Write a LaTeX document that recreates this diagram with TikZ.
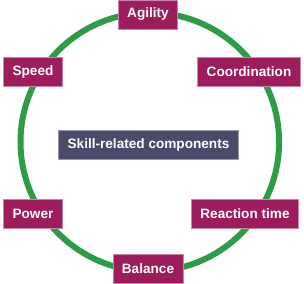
\documentclass[tikz,border=0pt]{standalone}
\usepackage{fontspec}
\setmainfont{Liberation Sans}
\usepackage{tikz}
\usetikzlibrary{calc,positioning}
\definecolor{ringgreen}{RGB}{44,156,70}
\definecolor{plum}{RGB}{156,28,92}
\definecolor{plumedge}{RGB}{205,130,168}
\definecolor{slate}{RGB}{76,74,106}
\definecolor{slateedge}{RGB}{150,150,175}

\begin{document}
\begin{tikzpicture}[x=1pt,y=-1pt,
        skillbox/.style={fill=plum, draw=plumedge, line width=0.6pt, text=white,
          font=\fontsize{13.6}{15}\selectfont\bfseries, inner xsep=9pt,
          minimum height=29pt},
        titlebox/.style={skillbox, fill=slate, draw=slateedge, inner xsep=9pt}]
        \useasboundingbox (0,0) rectangle (304,283);
        \def\r{129.3}
        \coordinate (c) at (149.8,142);
        %Ring
        \draw[ringgreen, line width=6pt] (c) circle (\r);
        %Boxes
        \node[skillbox] (agility) at (148,14.5) {Agility};
        \node[skillbox] (speed) at (33,71.5) {Speed};
        \node[skillbox] (coord) at (249,71.5) {Coordination};
        \node[skillbox] (power) at (33,213.5) {Power};
        \node[skillbox] (reaction) at (245,213.5) {Reaction time};
        \node[skillbox] (balance) at (148,268.5) {Balance};
        %Centre
        \node[titlebox] (skills) at (148.5,144.5) {Skill-related components};
      \end{tikzpicture}
\end{document}
